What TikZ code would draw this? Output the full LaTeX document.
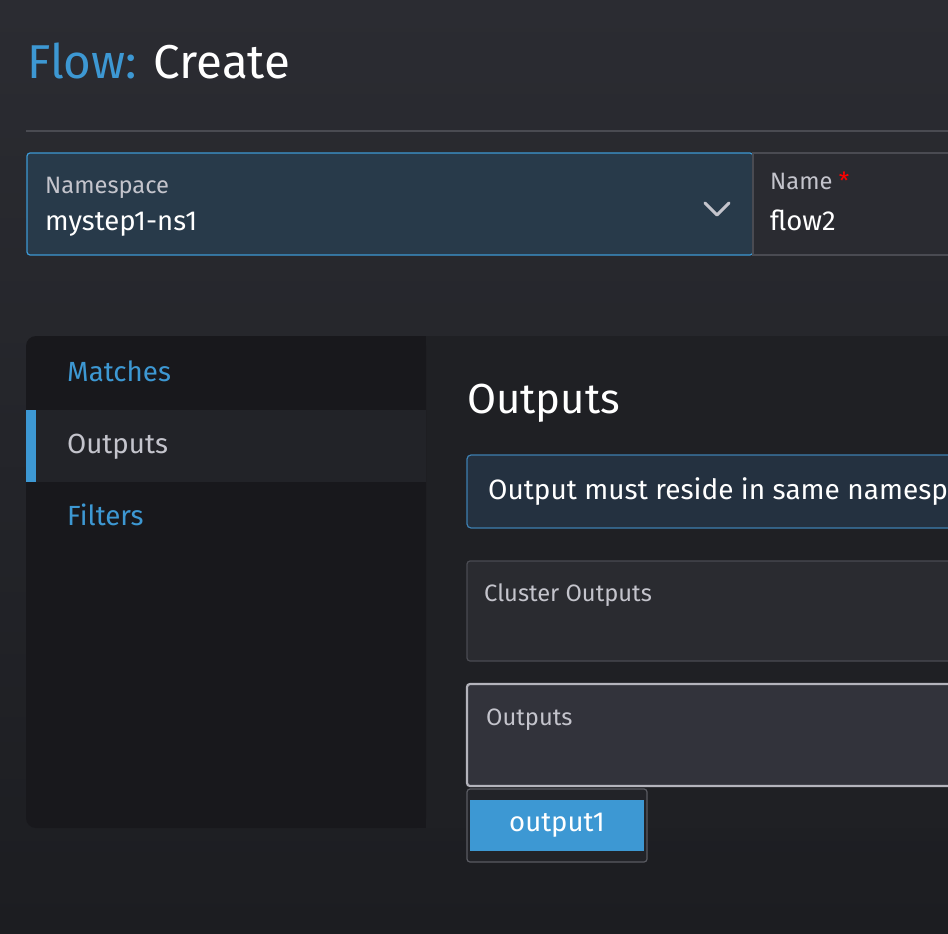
\documentclass[tikz,border=0pt]{standalone}
\usepackage{fontspec}
\setmainfont{Fira Sans}
\definecolor{bgtop}{HTML}{2B2C32}
\definecolor{bgbot}{HTML}{1C1D21}
\definecolor{accent}{HTML}{3D98D3}
\definecolor{lbl}{HTML}{C4C4CC}
\definecolor{edge}{HTML}{4A4B52}
\definecolor{nsfill}{HTML}{283A4A}
\definecolor{namefill}{HTML}{2A2B31}
\definecolor{rightbg}{HTML}{1F2024}
\definecolor{panel}{HTML}{18181C}
\definecolor{tabsel}{HTML}{222328}
\definecolor{infofill}{HTML}{243140}
\definecolor{infoedge}{HTML}{3D7FB0}
\definecolor{cofill}{HTML}{2A2B30}
\definecolor{ofill}{HTML}{32333B}
\definecolor{oedge}{HTML}{B4B4BC}
\definecolor{ddedge}{HTML}{5A5B62}
\begin{document}
\begin{tikzpicture}[x=1pt,y=-1pt,
  txt/.style={anchor=base west,inner sep=0pt},
  field/.style={draw=edge,line width=1.2pt,rounded corners=3pt}]
\useasboundingbox (0,0) rectangle (948,934);
\shade[top color=bgtop,bottom color=bgbot] (0,0) rectangle (948,934);
\node[txt,font=\fontsize{47.5}{52}\selectfont] (title) at (27,78) {\textcolor{accent}{Flow:} \textcolor{white}{Create}};
\draw[edge,line width=1.5pt] (26,131) -- (948,131);
% namespace
\draw[fill=nsfill,draw=accent,line width=1.2pt,rounded corners=3pt] (27,153) rectangle (753,255);
\node[txt,lbl,font=\fontsize{23.7}{26}\selectfont] (nsl) at (45,193) {Namespace};
\node[txt,white,font=\fontsize{27.5}{30}\selectfont] (nsv) at (45,230) {mystep1-ns1};
\draw[lbl,line width=3pt,line cap=round,line join=round] (705,203) -- (717,215) -- (729,203);
\fill[namefill] (754,154) rectangle (948,254);
\draw[edge,line width=1.2pt] (948,153) -- (753,153) -- (753,255) -- (948,255);
\node[txt,lbl,font=\fontsize{23.7}{26}\selectfont] (nml) at (770,189) {Name \textcolor{red}{*}};
\node[txt,white,font=\fontsize{27.5}{30}\selectfont] (nmv) at (770,230) {flow2};
% left panel
\fill[rightbg] (426,336) rectangle (948,828);
\fill[panel,rounded corners=10pt] (426,336) -- (26,336) -- (26,828) -- (426,828) -- cycle;
\fill[panel] (400,336) rectangle (426,828);
\fill[tabsel] (26,410) rectangle (426,482);
\fill[accent] (26,410) rectangle (36,482);
\node[txt,accent,font=\fontsize{27.7}{30}\selectfont] (m) at (67,381) {Matches};
\node[txt,lbl,font=\fontsize{27.7}{30}\selectfont] (o) at (67,453) {Outputs};
\node[txt,accent,font=\fontsize{27.7}{30}\selectfont] (f) at (67,525) {Filters};
% right
\node[txt,white,font=\fontsize{42}{46}\selectfont] (h) at (467,413) {Outputs};
\draw[fill=infofill,draw=infoedge,line width=1.2pt,rounded corners=4pt] (467,455) rectangle (960,528);
\node[txt,white,font=\fontsize{28}{30}\selectfont] (info) at (488,499) {Output must reside in same namesp};
\draw[field,fill=cofill] (467,561) rectangle (960,661);
\node[txt,lbl,font=\fontsize{23.7}{26}\selectfont] (co) at (484,601) {Cluster Outputs};
\draw[field,fill=ofill,draw=oedge,line width=2.2pt] (467,684) rectangle (960,786);
\node[txt,lbl,font=\fontsize{23.7}{26}\selectfont] (ol) at (486,725) {Outputs};
\draw[draw=ddedge,fill=tabsel,line width=1.2pt,rounded corners=3pt] (467,789) rectangle (647,862);
\fill[accent] (470,800) rectangle (644,851);
\node[white,font=\fontsize{27.5}{30}\selectfont] (o1) at (557,825) {output1};
\end{tikzpicture}
\end{document}
